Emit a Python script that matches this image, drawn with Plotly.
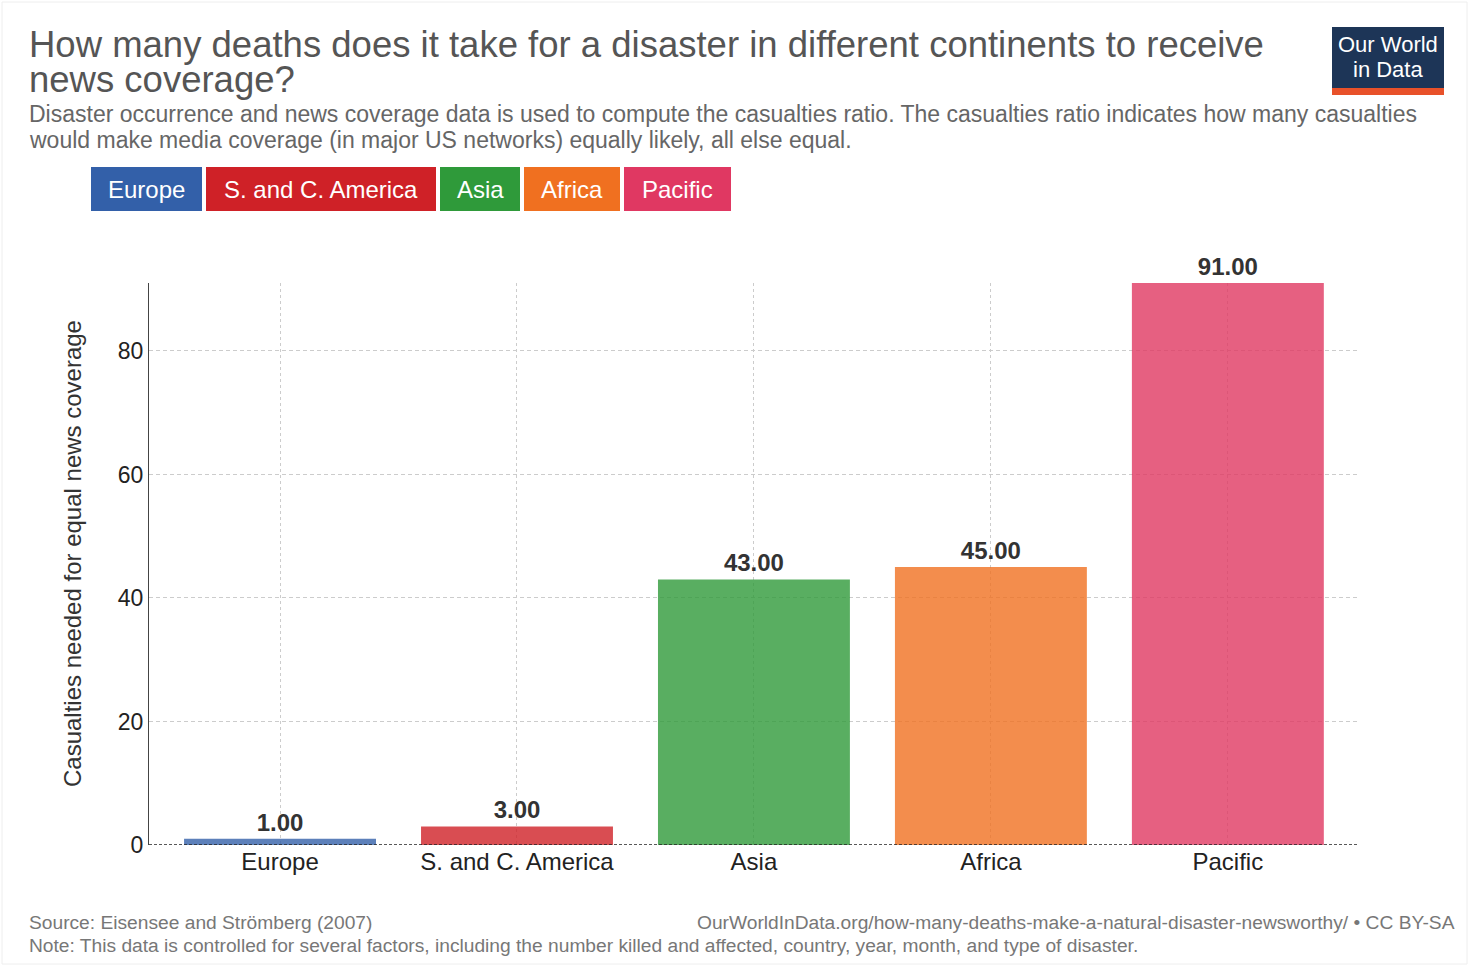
import plotly.graph_objects as go

# ---- data ----
regions = ["Europe", "S. and C. America", "Asia", "Africa", "Pacific"]
casualties_ratio = [1.00, 3.00, 43.00, 45.00, 91.00]
base_colors = ["#3360a9", "#cf2127", "#2f9a3a", "#f07020", "#e03862"]
y_ticks = [0, 20, 40, 60, 80]

W, H = 1470, 967
L, R, T, B = 149, 113, 283, 122
PW, PH = W - L - R, H - T - B


def px(x):
    return (x - L) / PW


def py(y):
    return (H - B - y) / PH


def rgba(hexc, a):
    h = hexc.lstrip("#")
    return f"rgba({int(h[0:2],16)},{int(h[2:4],16)},{int(h[4:6],16)},{a})"


FONT = "Liberation Sans, Arial, Helvetica, sans-serif"

fig = go.Figure()
fig.add_trace(go.Bar(
    x=regions,
    y=casualties_ratio,
    marker=dict(color=[rgba(c, 0.8) for c in base_colors], line=dict(width=0)),
    width=0.81,
    text=[f"{v:.2f}" for v in casualties_ratio],
    textposition="outside",
    textfont=dict(family=FONT, size=24, color="#333333", weight="bold"),
    cliponaxis=False,
    showlegend=False,
    hoverinfo="x+y",
))

shapes = []
annotations = []


def text_at(x, y, s, size, color, xanchor="left", yanchor="middle", **kw):
    annotations.append(dict(xref="paper", yref="paper", x=px(x), y=py(y), text=s,
                            showarrow=False, xanchor=xanchor, yanchor=yanchor,
                            font=dict(family=kw.pop("family", FONT), size=size, color=color), **kw))


# faint frame around the whole chart
shapes.append(dict(type="rect", xref="paper", yref="paper",
                   x0=px(2), x1=px(1467), y0=py(964), y1=py(2),
                   line=dict(color="#eeeeee", width=1), layer="below"))

# zero line dashed
shapes.append(dict(type="line", xref="paper", yref="y", x0=0, x1=1, y0=0, y1=0,
                   line=dict(color="#222222", width=1.5, dash="3px,2px"), layer="above"))

# legend boxes
legend_boxes = [(91, 202), (206, 436), (440, 520), (524, 620), (624, 731)]
for (x0, x1), name, c in zip(legend_boxes, regions, base_colors):
    shapes.append(dict(type="rect", xref="paper", yref="paper",
                       x0=px(x0), x1=px(x1), y0=py(211), y1=py(167),
                       fillcolor=c, line=dict(width=0)))
    text_at((x0 + x1) / 2, 189, name, 24, "white", xanchor="center")

# logo
shapes.append(dict(type="rect", xref="paper", yref="paper",
                   x0=px(1332), x1=px(1444), y0=py(88), y1=py(27),
                   fillcolor="#1d3557", line=dict(width=0)))
shapes.append(dict(type="rect", xref="paper", yref="paper",
                   x0=px(1332), x1=px(1444), y0=py(95), y1=py(88),
                   fillcolor="#e8512a", line=dict(width=0)))
text_at(1388, 44, "Our World", 22, "white", xanchor="center")
text_at(1388, 69, "in Data", 22, "white", xanchor="center")

# title & subtitle
text_at(27, 44, "How many deaths does it take for a disaster in different continents to receive", 36.5, "#555555")
text_at(27, 79, "news coverage?", 36.5, "#555555")
text_at(27, 114, "Disaster occurrence and news coverage data is used to compute the casualties ratio. The casualties ratio indicates how many casualties", 23, "#666666")
text_at(27, 140, "would make media coverage (in major US networks) equally likely, all else equal.", 23, "#666666")

# y-axis title
text_at(72, 554, "Casualties needed for equal news coverage", 24, "#333333", xanchor="center", textangle=-90)

# footer
text_at(27, 923, "Source: Eisensee and Strömberg (2007)", 19.2, "#777777")
text_at(1457, 923, "OurWorldInData.org/how-many-deaths-make-a-natural-disaster-newsworthy/ • CC BY-SA", 19.2, "#777777", xanchor="right")
text_at(27, 945, "Note: This data is controlled for several factors, including the number killed and affected, country, year, month, and type of disaster.", 19.2, "#777777")

fig.update_layout(
    width=W, height=H,
    margin=dict(l=L, r=R, t=T, b=B, autoexpand=False),
    paper_bgcolor="white", plot_bgcolor="white",
    shapes=shapes, annotations=annotations,
    xaxis=dict(
        range=[-0.553, 4.545],
        showgrid=True, gridcolor="#cccccc", griddash="3px,3px", gridwidth=1,
        showline=False, zeroline=False, ticks="",
        tickfont=dict(family=FONT, size=24, color="#222222"),
        fixedrange=True,
    ),
    yaxis=dict(
        range=[0, 91],
        tickvals=y_ticks,
        showgrid=True, gridcolor="#cccccc", griddash="4px,3px", gridwidth=1,
        showline=True, linecolor="#444444", linewidth=1,
        zeroline=False, ticks="",
        tickfont=dict(family=FONT, size=23, color="#222222"),
        fixedrange=True,
    ),
    font=dict(family=FONT),
)

fig.write_html("out.html")
